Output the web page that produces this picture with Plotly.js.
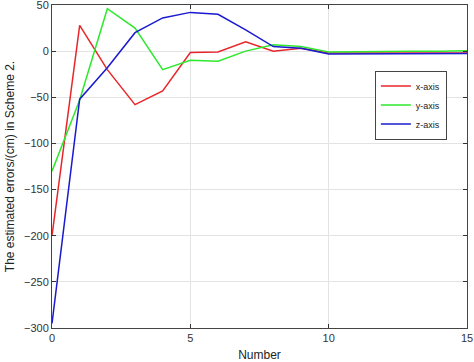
<!DOCTYPE html>
<html><head><meta charset="utf-8">
<script src="https://cdn.plot.ly/plotly-3.0.1.min.js"></script>
<style>html,body{margin:0;padding:0;background:#fff;}#chart{width:474px;height:362px;}</style>
</head><body><div id="chart"></div>
<script>
const numbers = [0,1,2,3,4,5,6,7,8,9,10,11,12,13,14,15];
const xAxisErr = [-200,28,-20,-58,-43,-1.5,-1,10,0,3,-2,-2,-2,-2,-2,-2];
const yAxisErr = [-130,-53,46,25,-20,-10,-11,0,7,5,-1,-0.5,0,0,0,0.5];
const zAxisErr = [-295,-52,-18,20,36,42,40,23,5,3,-3,-3,-3,-3,-3,-2.5];
const seriesNames = ['x-axis','y-axis','z-axis'];
const seriesColors = ['#e8262a','#2ee82e','#1a1ad0'];
const yTicks = [50,0,-50,-100,-150,-200,-250,-300];
const xTicks = [0,5,10,15];

const series = [xAxisErr, yAxisErr, zAxisErr];
const traces = series.map((s,i)=>({
  x: numbers, y: s, type:'scatter', mode:'lines', name: seriesNames[i],
  line:{color: seriesColors[i], width:1.5}
}));
const layout = {
  width:474, height:362,
  margin:{l:52, r:7, t:5, b:34},
  paper_bgcolor:'#fff', plot_bgcolor:'#fff',
  font:{family:'Liberation Sans, Arial, sans-serif', size:11, color:'#333'},
  showlegend:true,
  legend:{x:0.778, y:0.797, xanchor:'left', yanchor:'top', bgcolor:'#fff',
    bordercolor:'#444', borderwidth:1, font:{size:9, color:'#222'},
    tracegroupgap:0, itemwidth:30},
  xaxis:{range:[0,15], tickvals:xTicks, ticks:'inside', ticklen:4, tickcolor:'#333',
    ticklabeloverflow:'allow',
    showgrid:true, gridcolor:'#e3e3e3', zeroline:false, showline:true, linecolor:'#444',
    linewidth:1, mirror:'ticks', title:{text:'Number', font:{size:12, color:'#222'}, standoff:8}},
  yaxis:{range:[-300,50], tickvals:yTicks, ticks:'inside', ticklen:4, tickcolor:'#333',
    ticklabeloverflow:'allow',
    showgrid:true, gridcolor:'#e3e3e3', zeroline:false, showline:true, linecolor:'#444',
    linewidth:1, mirror:'ticks',
    title:{text:'The estimated errors/(cm) in Scheme 2.', font:{size:12, color:'#222'}, standoff:6}}
};
Plotly.newPlot('chart', traces, layout, {displayModeBar:false, staticPlot:true});
</script></body></html>
